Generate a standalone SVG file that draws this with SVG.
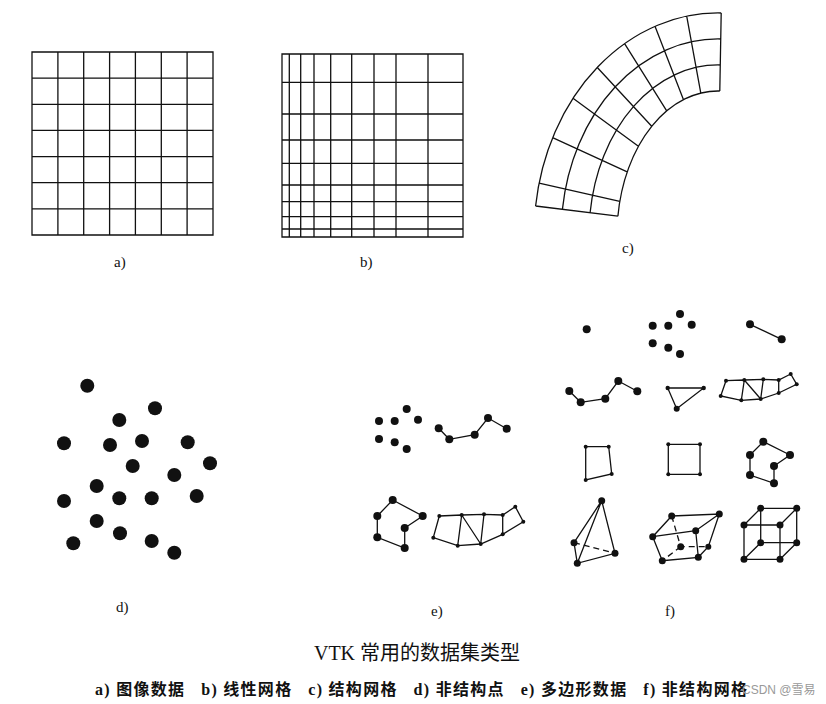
<svg xmlns="http://www.w3.org/2000/svg" width="826" height="704" viewBox="0 0 826 704">
<style>
.ln{stroke:#111;stroke-width:1.3;fill:none}
.dl{stroke:#111;stroke-width:1.3;fill:none;stroke-dasharray:6 4}
.d{fill:#111}
.lb{font-family:"Liberation Serif",serif;font-size:15px;fill:#111}
.cn{font-family:"Liberation Serif","Noto Sans CJK SC",serif;fill:#111}
</style>
<rect width="826" height="704" fill="#fff"/>
<g id="a">
<path class="ln" d="M32 52H213V235H32Z M57.9 52V235 M83.7 52V235 M109.6 52V235 M135.4 52V235 M161.3 52V235 M187.1 52V235 M32 78.1H213 M32 104.3H213 M32 130.4H213 M32 156.6H213 M32 182.7H213 M32 208.9H213"/>
</g>
<g id="b">
<path class="ln" d="M282 54H463V237H282Z M289.3 54V237 M300.7 54V237 M314 54V237 M330.7 54V237 M351.7 54V237 M374 54V237 M396 54V237 M428 54V237 M282 82.3H463 M282 114H463 M282 140H463 M282 163.3H463 M282 185H463 M282 201.7H463 M282 216.7H463 M282 229H463"/>
</g>
<g id="c">
<path class="ln" d="M535.6 206A184 222 0 0 1 721.2 13 M562.4 209.4A157 196 0 0 1 720.7 39 M590.1 212.8A129 170 0 0 1 720.3 65 M617.9 216.2A101 144 0 0 1 719.8 91
M535.6 206L617.9 216.2 M539.1 183.2L619.8 201.4 M552.6 137.7L627.2 171.9 M573 98.3L638.4 146.3 M597.3 67.5L651.7 126.3 M624.6 43.7L666.7 110.9 M655.1 26.4L683.5 99.7 M686.7 16.2L700.8 93.1 M721.2 13L719.8 91"/>
</g>
<g id="d" class="d">
<circle cx="87.3" cy="385.7" r="7"/><circle cx="155" cy="408.3" r="7"/><circle cx="119.3" cy="420" r="7"/><circle cx="64" cy="443.3" r="7"/><circle cx="110" cy="445" r="7"/><circle cx="142" cy="441" r="7"/><circle cx="187.7" cy="442.3" r="7"/><circle cx="132.7" cy="466" r="7"/><circle cx="210" cy="463.3" r="7"/><circle cx="174.3" cy="475" r="7"/><circle cx="96.7" cy="486" r="7"/><circle cx="64" cy="501" r="7"/><circle cx="119.3" cy="498.3" r="7"/><circle cx="151.7" cy="498.3" r="7"/><circle cx="196.7" cy="496" r="7"/><circle cx="96.7" cy="521" r="7"/><circle cx="120" cy="533.3" r="7"/><circle cx="73.3" cy="543.3" r="7"/><circle cx="151.7" cy="541" r="7"/><circle cx="174.3" cy="552.7" r="7"/>
</g>
<g id="e">
<g class="d"><circle cx="406.7" cy="409" r="4"/><circle cx="379" cy="421" r="4"/><circle cx="394.7" cy="421" r="4"/><circle cx="418" cy="419.7" r="4"/><circle cx="379" cy="439" r="4"/><circle cx="394.7" cy="442.3" r="4"/><circle cx="406.7" cy="449" r="4"/></g>
<polyline class="ln" points="438.7,428.3 449.3,439.3 474.7,434.7 488,418 506.7,428.7"/>
<g class="d"><circle cx="438.7" cy="428.3" r="4"/><circle cx="449.3" cy="439.3" r="4"/><circle cx="474.7" cy="434.7" r="4"/><circle cx="488" cy="418" r="4"/><circle cx="506.7" cy="428.7" r="4"/></g>
<polygon class="ln" points="392.7,500 422.7,516 404.7,528 404.7,548 377.3,537.3 377.3,516"/>
<g class="d"><circle cx="392.7" cy="500" r="4"/><circle cx="422.7" cy="516" r="4"/><circle cx="404.7" cy="528" r="4"/><circle cx="404.7" cy="548" r="4"/><circle cx="377.3" cy="537.3" r="4"/><circle cx="377.3" cy="516" r="4"/></g>
<path class="ln" d="M439.3 516L461.7 515L484 514.3L502.7 515L515.3 506.7L523.3 521.7L502.7 534.3L480.7 544L457.7 545.7L433.3 537.7Z M461.7 515L457.7 545.7 M461.7 515L480.7 544 M484 514.3L480.7 544 M502.7 515L502.7 534.3"/>
<g class="d"><circle cx="439.3" cy="516" r="2"/><circle cx="461.7" cy="515" r="2"/><circle cx="484" cy="514.3" r="2"/><circle cx="502.7" cy="515" r="2"/><circle cx="515.3" cy="506.7" r="2"/><circle cx="433.3" cy="537.7" r="2"/><circle cx="457.7" cy="545.7" r="2"/><circle cx="480.7" cy="544" r="2"/><circle cx="502.7" cy="534.3" r="2"/><circle cx="523.3" cy="521.7" r="2"/></g>
</g>
<g id="f">
<g class="d"><circle cx="586.7" cy="329.3" r="4"/><circle cx="680" cy="314" r="4"/><circle cx="652.7" cy="325.7" r="4"/><circle cx="668.3" cy="325.7" r="4"/><circle cx="691.7" cy="324.7" r="4"/><circle cx="652.7" cy="343.3" r="4"/><circle cx="668.3" cy="347.7" r="4"/><circle cx="680" cy="354" r="4"/></g>
<line class="ln" x1="750" y1="324.3" x2="781.7" y2="339.3"/>
<g class="d"><circle cx="750" cy="324.3" r="4"/><circle cx="781.7" cy="339.3" r="4"/></g>
<polyline class="ln" points="569.3,391 580.7,402.3 605.3,398.7 618.3,381 637.3,391.3"/>
<g class="d"><circle cx="569.3" cy="391" r="4"/><circle cx="580.7" cy="402.3" r="4"/><circle cx="605.3" cy="398.7" r="4"/><circle cx="618.3" cy="381" r="4"/><circle cx="637.3" cy="391.3" r="4"/></g>
<polygon class="ln" points="667.7,388 703.7,388 676.7,408.7"/>
<g class="d"><circle cx="667.7" cy="388" r="2.2"/><circle cx="703.7" cy="388" r="2.2"/><circle cx="676.7" cy="408.7" r="3"/></g>
<path class="ln" d="M726 380.7L744.3 380L763.3 379.3L778.7 380L790.7 374L796.7 384.3L778.7 393L760.7 399L741.3 400.3L720.7 396Z M744.3 380L741.3 400.3 M744.3 380L760.7 399 M763.3 379.3L760.7 399 M778.7 380L778.7 393"/>
<g class="d"><circle cx="726" cy="380.7" r="2"/><circle cx="744.3" cy="380" r="2"/><circle cx="763.3" cy="379.3" r="2"/><circle cx="778.7" cy="380" r="2"/><circle cx="790.7" cy="374" r="2"/><circle cx="720.7" cy="396" r="2"/><circle cx="741.3" cy="400.3" r="2"/><circle cx="760.7" cy="399" r="2"/><circle cx="778.7" cy="393" r="2"/><circle cx="796.7" cy="384.3" r="2"/></g>
<polygon class="ln" points="585.7,446.7 608.7,446.7 611.7,474 585.7,480"/>
<g class="d"><circle cx="585.7" cy="446.7" r="2"/><circle cx="608.7" cy="446.7" r="2"/><circle cx="611.7" cy="474" r="2"/><circle cx="585.7" cy="480" r="2"/></g>
<polygon class="ln" points="668.3,444.3 700,444.3 700,474.3 668.3,474.3"/>
<g class="d"><circle cx="668.3" cy="444.3" r="2"/><circle cx="700" cy="444.3" r="2"/><circle cx="700" cy="474.3" r="2"/><circle cx="668.3" cy="474.3" r="2"/></g>
<polygon class="ln" points="763.3,441.7 790,455 774,466 774,483.3 750,475 750,455"/>
<g class="d"><circle cx="763.3" cy="441.7" r="4"/><circle cx="790" cy="455" r="4"/><circle cx="774" cy="466" r="4"/><circle cx="774" cy="483.3" r="4"/><circle cx="750" cy="475" r="4"/><circle cx="750" cy="455" r="4"/></g>
<path class="ln" d="M601.7 500.7L574 542.7L577.3 563.3L615 553.3Z M601.7 500.7L577.3 563.3"/>
<line class="dl" x1="574" y1="542.7" x2="615" y2="553.3"/>
<g class="d"><circle cx="601.7" cy="500.7" r="3.5"/><circle cx="574" cy="542.7" r="3.5"/><circle cx="577.3" cy="563.3" r="3.5"/><circle cx="615" cy="553.3" r="3.5"/></g>
<path class="ln" d="M671.7 516L719.3 514L695.7 530.7L652.7 536.7Z M652.7 536.7L662.3 560.7L698.3 557.3L695.7 530.7 M698.3 557.3L708.3 546.7L719.3 514"/>
<path class="dl" d="M671.7 516L680.7 546.7L708.3 546.7 M680.7 546.7L662.3 560.7"/>
<g class="d"><circle cx="671.7" cy="516" r="3.5"/><circle cx="719.3" cy="514" r="3.5"/><circle cx="652.7" cy="536.7" r="3.5"/><circle cx="695.7" cy="530.7" r="3.5"/><circle cx="680.7" cy="546.7" r="3.5"/><circle cx="708.3" cy="546.7" r="3"/><circle cx="662.3" cy="560.7" r="3.5"/><circle cx="698.3" cy="557.3" r="3.5"/></g>
<path class="ln" d="M760.7 508.3H796.7V542.7H760.7Z M744 525H780V559.3H744Z M760.7 508.3L744 525 M796.7 508.3L780 525 M796.7 542.7L780 559.3 M760.7 542.7L744 559.3"/>
<g class="d"><circle cx="760.7" cy="508.3" r="3.5"/><circle cx="796.7" cy="508.3" r="3.5"/><circle cx="744" cy="525" r="3.5"/><circle cx="780" cy="525" r="3.5"/><circle cx="760.7" cy="542.7" r="3.5"/><circle cx="796.7" cy="542.7" r="3.5"/><circle cx="744" cy="559.3" r="3.5"/><circle cx="780" cy="559.3" r="3.5"/></g>
</g>
<g id="labels" class="lb">
<text x="114" y="267">a)</text>
<text x="360" y="267">b)</text>
<text x="622" y="253">c)</text>
<text x="116" y="612">d)</text>
<text x="431" y="616">e)</text>
<text x="665" y="616">f)</text>
</g>
<text class="cn" x="417" y="660" font-size="20" text-anchor="middle">VTK 常用的数据集类型</text>
<text class="cn" x="95" y="695" font-size="16" font-weight="bold" textLength="652" lengthAdjust="spacing" xml:space="preserve">a) 图像数据   b) 线性网格   c) 结构网格   d) 非结构点   e) 多边形数据   f) 非结构网格</text>
<text x="742" y="694" font-family="'Liberation Sans','Noto Sans CJK SC',sans-serif" font-size="12" fill="#999">CSDN @雪易</text>
</svg>
